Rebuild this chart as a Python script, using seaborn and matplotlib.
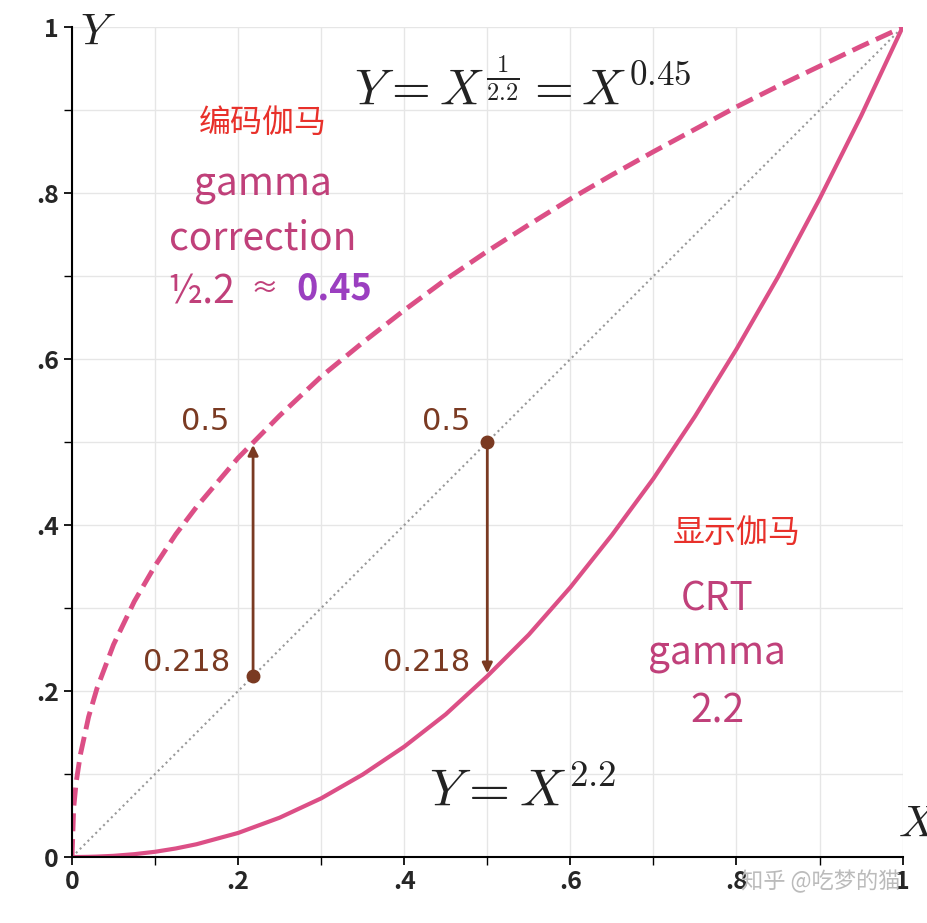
import matplotlib
matplotlib.use("Agg")
import matplotlib.pyplot as plt
import seaborn as sns
import pandas as pd

sns.set_theme(style="white")
plt.rcParams['font.family'] = ['Noto Sans CJK SC', 'DejaVu Sans']
plt.rcParams['mathtext.fontset'] = 'cm'

xs = [0, 0.002, 0.005, 0.01, 0.02, 0.03, 0.05, 0.075, 0.1, 0.125, 0.15, 0.2, 0.25, 0.3, 0.35, 0.4, 0.45, 0.5, 0.55, 0.6, 0.65, 0.7, 0.75, 0.8, 0.85, 0.9, 0.95, 1.0]
enc = [0, 0.059, 0.090, 0.123, 0.169, 0.203, 0.256, 0.308, 0.351, 0.389, 0.422, 0.481, 0.532, 0.579, 0.620, 0.659, 0.696, 0.730, 0.762, 0.793, 0.822, 0.850, 0.877, 0.904, 0.929, 0.953, 0.977, 1.0]
crt = [0, 0.000001, 0.000009, 0.00004, 0.0002, 0.0005, 0.0014, 0.0034, 0.0063, 0.0103, 0.0154, 0.0290, 0.0474, 0.0707, 0.0994, 0.133, 0.172, 0.218, 0.268, 0.325, 0.388, 0.456, 0.531, 0.612, 0.699, 0.793, 0.893, 1.0]
ticks = [0, 0.2, 0.4, 0.6, 0.8, 1.0]
tick_labels = ["0", ".2", ".4", ".6", ".8", "1"]

df = pd.DataFrame({"x": xs, "enc": enc, "crt": crt})
pink = "#dc4f86"
brown = "#7a3a22"

fig = plt.figure(figsize=(9.28, 9.23), dpi=100)
ax = fig.add_axes([0.0776, 0.0715, 0.895, 0.899])
ax.plot([0, 1], [0, 1], ls=":", color="#999999", lw=1.5)
sns.lineplot(data=df, x="x", y="enc", ax=ax, color=pink, lw=3.5, dashes=(6, 2.5), linestyle="--")
sns.lineplot(data=df, x="x", y="crt", ax=ax, color=pink, lw=3)
ax.set_xlim(0, 1); ax.set_ylim(0, 1)
ax.set_xticks(ticks); ax.set_xticklabels(tick_labels, fontsize=18, weight="bold")
ax.set_yticks(ticks); ax.set_yticklabels(tick_labels, fontsize=18, weight="bold")
ax.set_xticks([0.1, 0.3, 0.5, 0.7, 0.9], minor=True)
ax.set_yticks([0.1, 0.3, 0.5, 0.7, 0.9], minor=True)
ax.grid(True, which="both", color="#e6e6e6", lw=1)
ax.tick_params(which="both", direction="out", length=6, color="black", left=True, bottom=True)
for s in ["top", "right"]:
    ax.spines[s].set_visible(False)
for s in ["left", "bottom"]:
    ax.spines[s].set_color("black"); ax.spines[s].set_linewidth(1.5)
ax.set_xlabel(""); ax.set_ylabel("")

ax.annotate("", xy=(0.218, 0.5), xytext=(0.218, 0.218),
            arrowprops=dict(arrowstyle="-|>", color=brown, lw=2, mutation_scale=15))
ax.plot([0.218], [0.218], "o", color=brown, ms=9)
ax.annotate("", xy=(0.5, 0.218), xytext=(0.5, 0.5),
            arrowprops=dict(arrowstyle="-|>", color=brown, lw=2, mutation_scale=15))
ax.plot([0.5], [0.5], "o", color=brown, ms=9)
for (x, y, t) in [(0.19, 0.525, "0.5"), (0.19, 0.235, "0.218"), (0.48, 0.525, "0.5"), (0.48, 0.235, "0.218")]:
    ax.text(x, y, t, color=brown, fontsize=22, ha="right", va="center", family="DejaVu Sans")

ax.text(0.34, 0.925, r"$Y=X^{\frac{1}{2.2}}=X^{0.45}$", fontsize=36, ha="left", va="center", color="#222222")
ax.text(0.43, 0.08, r"$Y=X^{2.2}$", fontsize=38, ha="left", va="center", color="#222222")
ax.text(0.01, 0.995, r"$Y$", fontsize=32, ha="left", va="center", color="#222222")
ax.text(0.995, 0.04, r"$X$", fontsize=32, ha="left", va="center", color="#222222")

ax.text(0.23, 0.885, "编码伽马", color="#e8302a", fontsize=23, ha="center", va="center")
ax.text(0.23, 0.81, "gamma", color="#c0407a", fontsize=28, ha="center", va="center")
ax.text(0.23, 0.745, "correction", color="#c0407a", fontsize=28, ha="center", va="center")
ax.text(0.115, 0.68, "½.2", color="#c0407a", fontsize=28, ha="left", va="center")
ax.text(0.215, 0.685, "≈", color="#c0407a", fontsize=20, ha="left", va="center")
ax.text(0.27, 0.685, "0.45", color="#9b3fc0", fontsize=26, ha="left", va="center", weight="bold")

ax.text(0.8, 0.39, "显示伽马", color="#e8302a", fontsize=23, ha="center", va="center")
ax.text(0.777, 0.31, "CRT", color="#c0407a", fontsize=28, ha="center", va="center")
ax.text(0.777, 0.245, "gamma", color="#c0407a", fontsize=28, ha="center", va="center")
ax.text(0.777, 0.175, "2.2", color="#c0407a", fontsize=28, ha="center", va="center")

fig.text(0.97, 0.045, "知乎 @吃梦的猫", color="#bbbbbb", fontsize=16, ha="right", va="center")

fig.savefig("out.png", dpi=100)
